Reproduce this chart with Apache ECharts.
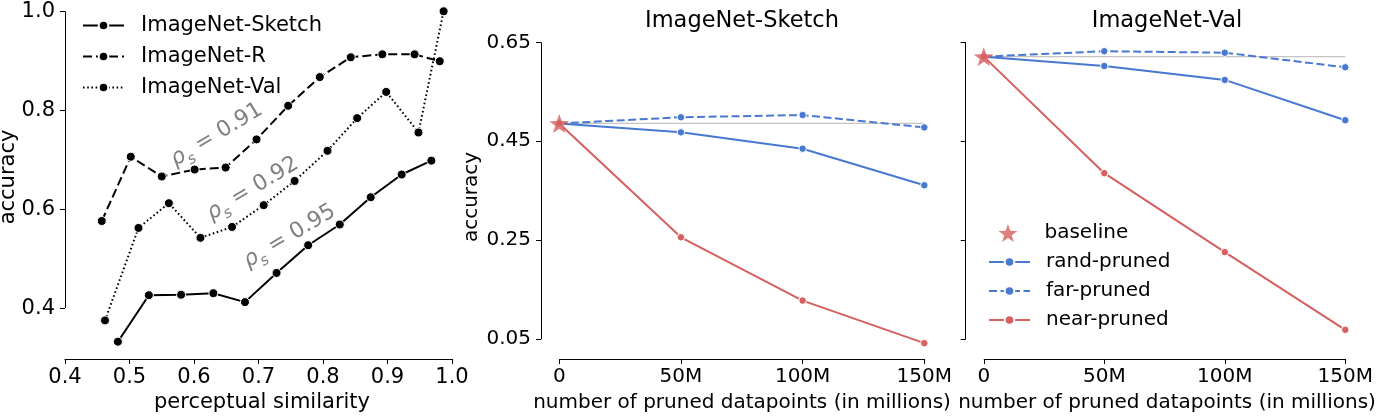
<!DOCTYPE html>
<html><head><meta charset="utf-8">
<script src="https://cdn.jsdelivr.net/npm/echarts@6/dist/echarts.min.js"></script>
<style>html,body{margin:0;padding:0;background:#fff}#c{width:1376px;height:418px}</style>
</head><body><div id="c"></div>
<script>
// ---------- data: left panel (accuracy vs perceptual similarity) ----------
const sketchSim = [0.482,0.530,0.580,0.630,0.679,0.728,0.777,0.826,0.874,0.922,0.968];
const sketchAcc = [0.332,0.426,0.427,0.430,0.412,0.471,0.527,0.569,0.624,0.670,0.698];
const rSim      = [0.457,0.502,0.550,0.601,0.649,0.697,0.746,0.795,0.843,0.892,0.942,0.981];
const rAcc      = [0.576,0.706,0.666,0.680,0.684,0.741,0.809,0.867,0.907,0.913,0.913,0.899];
const valSim    = [0.462,0.514,0.561,0.610,0.659,0.708,0.756,0.807,0.853,0.898,0.948,0.987];
const valAcc    = [0.375,0.562,0.612,0.542,0.564,0.608,0.657,0.718,0.784,0.837,0.755,1.000];
const rhoValues  = ['0.91','0.92','0.95'];
const rhoAnchorX = [0.637,0.693,0.750];
const rhoAnchorY = [0.746,0.637,0.541];
const simTicks = [0.4,0.5,0.6,0.7,0.8,0.9,1.0];
const simTickLabels = ['0.4','0.5','0.6','0.7','0.8','0.9','1.0'];
const accTicks = [0.4,0.6,0.8,1.0];
const accTickLabels = ['0.4','0.6','0.8','1.0'];

// ---------- data: pruning panels ----------
const prunedM = [0,50,100,150];
const prunedLabels = ['0','50M','100M','150M'];
const pruneAccTicks = [0.05,0.25,0.45,0.65];
const pruneAccLabels = ['0.05','0.25','0.45','0.65'];
const sketchBaseline = 0.486;
const sketchRand = [0.486,0.468,0.435,0.361];
const sketchFar  = [0.486,0.4985,0.503,0.478];
const sketchNear = [0.486,0.256,0.128,0.042];
const valBaseline = 0.621;
const valRand = [0.621,0.602,0.574,0.4925];
const valFar  = [0.621,0.632,0.629,0.5995];
const valNear = [0.621,0.3855,0.226,0.069];

// ---------- styling ----------
const FONT = 'DejaVu Sans';
const BLUE = '#4878d0', RED = '#d65f5f';
const STAR = 'path://M0,-10 L2.35,-3.24 L9.51,-3.09 L3.8,1.24 L5.88,8.09 L0,4 L-5.88,8.09 L-3.8,1.24 L-9.51,-3.09 L-2.35,-3.24 Z';
const axisCol = '#000';
const SIM_YMIN = 0.297, PR_XMIN = -7.5, PR_YMIN = 0.01;

function pick(ticks, labels){ return v => { for (let i=0;i<ticks.length;i++) if (Math.abs(ticks[i]-v)<1e-9) return labels[i]; return ''; }; }
const spineStyle = {color: axisCol, width: 1, type: 'solid'};
function spineMark(lines){
  return {silent:true, symbol:['none','none'], animation:false, label:{show:false},
          lineStyle: spineStyle, emphasis:{disabled:true},
          data: lines.map(l => [{coord:l[0]},{coord:l[1]}])};
}
function xAx(grid, min, max, ticks, labels, fs){
  return {gridIndex:grid, type:'value', min, max, splitLine:{show:false},
    axisLine:{show:false, onZero:false},
    axisTick:{show:true, length:5, customValues:ticks, lineStyle:{color:axisCol,width:1}},
    axisLabel:{customValues:ticks, formatter:pick(ticks,labels), fontFamily:FONT, fontSize:fs, color:'#000', margin:8}};
}
function yAx(grid, min, max, ticks, labels, showLabels, fs){
  return {gridIndex:grid, type:'value', min, max, splitLine:{show:false},
    axisLine:{show:false, onZero:false},
    axisTick:{show:true, length:5, customValues:ticks, lineStyle:{color:axisCol,width:1}},
    axisLabel:{show:showLabels, customValues:ticks, formatter:pick(ticks,labels), fontFamily:FONT, fontSize:fs, color:'#000', margin:10}};
}
function simSeries(name, xs, ys, dash, extra){
  return Object.assign({name, type:'line', xAxisIndex:0, yAxisIndex:0, clip:false,
    data: xs.map((x,i)=>[x, ys[i]]), symbol:'circle', symbolSize:9,
    itemStyle:{color:'#000', borderColor:'#fff', borderWidth:1},
    lineStyle:{color:'#000', width:2, type:dash}, emphasis:{disabled:true}, animation:false}, extra||{});
}
function prunedSeries(g, base, rand, far, near){
  const mk = (name, vals, color, dash, z) => ({name, type:'line', xAxisIndex:g, yAxisIndex:g, clip:false, z,
    data: prunedM.map((m,i)=>[m, vals[i]]), symbol:'circle', symbolSize:7.5,
    itemStyle:{color, borderColor:'#fff', borderWidth:1},
    lineStyle:{color, width:2, type:dash}, emphasis:{disabled:true}, animation:false});
  const x0 = prunedM[0], x1 = prunedM[prunedM.length-1];
  return [
    {name:'_base'+g, type:'line', xAxisIndex:g, yAxisIndex:g, clip:false, z:1,
     data:[[x0, base],[x1, base]], symbol:'none', lineStyle:{color:'#c4c4c4', width:1.3},
     emphasis:{disabled:true}, animation:false,
     markLine: spineMark([[[x0, PR_YMIN],[x1, PR_YMIN]], [[PR_XMIN, pruneAccTicks[0]],[PR_XMIN, pruneAccTicks[pruneAccTicks.length-1]]]])},
    mk('rand-pruned', rand, BLUE, 'solid', 3),
    mk('far-pruned', far, BLUE, [8,3.5], 3),
    mk('near-pruned', near, RED, 'solid', 3),
    {name:'baseline', type:'scatter', xAxisIndex:g, yAxisIndex:g, z:5, clip:false,
     data:[[x0, base]], symbol:STAR, symbolSize:20, symbolKeepAspect:true,
     itemStyle:{color:RED}, emphasis:{disabled:true}, animation:false}
  ];
}

const chart = echarts.init(document.getElementById('c'), null, {renderer:'canvas'});
const option = {
  animation:false,
  backgroundColor:'#fff',
  textStyle:{fontFamily:FONT},
  grid:[
    {left:65, top:11.3, width:387, height:347.7},
    {left:541, top:42.3, width:383.3, height:316.7},
    {left:965.7, top:42.3, width:383.3, height:316.7}
  ],
  xAxis:[
    Object.assign(xAx(0, simTicks[0], simTicks[simTicks.length-1], simTicks, simTickLabels, 21), {axisLine:{show:true, onZero:false, lineStyle:{color:axisCol,width:1}}}),
    xAx(1, PR_XMIN, prunedM[prunedM.length-1], prunedM, prunedLabels, 20),
    xAx(2, PR_XMIN, prunedM[prunedM.length-1], prunedM, prunedLabels, 20)
  ],
  yAxis:[
    yAx(0, SIM_YMIN, accTicks[accTicks.length-1], accTicks, accTickLabels, true, 21),
    yAx(1, PR_YMIN, pruneAccTicks[pruneAccTicks.length-1], pruneAccTicks, pruneAccLabels, true, 20),
    yAx(2, PR_YMIN, pruneAccTicks[pruneAccTicks.length-1], pruneAccTicks, pruneAccLabels, false, 20)
  ],
  legend:[
    {data:['ImageNet-Sketch','ImageNet-R','ImageNet-Val'], orient:'vertical', left:82, top:15, padding:0,
     itemWidth:41, itemHeight:12, itemGap:10, selectedMode:false,
     textStyle:{fontFamily:FONT, fontSize:21, color:'#000', padding:[0,0,0,12]}},
    {data:['baseline'], orient:'vertical', left:998.5, top:223, padding:0,
     itemWidth:41, itemHeight:18, selectedMode:false,
     textStyle:{fontFamily:FONT, fontSize:20, color:'#000', padding:[0,0,0,11]}},
    {data:['rand-pruned','far-pruned','near-pruned'], orient:'vertical', left:988, top:252, padding:0,
     itemWidth:41, itemHeight:12, itemGap:9, selectedMode:false,
     textStyle:{fontFamily:FONT, fontSize:20, color:'#000', padding:[0,0,0,11]}}
  ],
  series:[
    simSeries('ImageNet-Sketch', sketchSim, sketchAcc, 'solid',
      {markLine: spineMark([[[simTicks[0], accTicks[0]],[simTicks[0], accTicks[accTicks.length-1]]]])}),
    simSeries('ImageNet-R', rSim, rAcc, [9,4]),
    simSeries('ImageNet-Val', valSim, valAcc, [1.6,2.6])
  ].concat(prunedSeries(1, sketchBaseline, sketchRand, sketchFar, sketchNear))
   .concat(prunedSeries(2, valBaseline, valRand, valFar, valNear))
};
chart.setOption(option);

// ---------- texts: titles, axis names, annotations ----------
const txt = (text, x, y, size, extra) => Object.assign({type:'text', x, y, silent:true,
  style:{text, fontFamily:FONT, fontSize:size, fill:'#000', align:'center', verticalAlign:'middle'}}, extra||{});
const graphics = [
  txt('ImageNet-Sketch', 742, 21, 22.5),
  txt('ImageNet-Val', 1167, 21, 22.5),
  txt('perceptual similarity', 262, 403, 21),
  txt('number of pruned datapoints (in millions)', 742, 403, 20),
  txt('number of pruned datapoints (in millions)', 1167, 403, 20),
  txt('accuracy', 9, 177, 21, {rotation:Math.PI/2}),
  txt('accuracy', 472, 197, 20, {rotation:Math.PI/2})
];
rhoValues.forEach((v,i) => {
  const p = chart.convertToPixel({gridIndex:0}, [rhoAnchorX[i], rhoAnchorY[i]]);
  graphics.push({type:'text', x:p[0], y:p[1], rotation:31*Math.PI/180, silent:true,
    style:{text:'{r|ρ}{s|s}{n| = '+v+'}', align:'center', verticalAlign:'middle', fill:'#808080',
      rich:{
        r:{fontFamily:FONT, fontSize:22, fontStyle:'italic', fill:'#808080', verticalAlign:'bottom', padding:[0,0,5,0]},
        s:{fontFamily:FONT, fontSize:15, fontStyle:'italic', fill:'#808080', verticalAlign:'bottom', padding:[0,0,0,0]},
        n:{fontFamily:FONT, fontSize:22, fill:'#808080', verticalAlign:'bottom', padding:[0,0,5,0]}
      }}});
});
chart.setOption({graphic: graphics});
</script>
</body></html>
